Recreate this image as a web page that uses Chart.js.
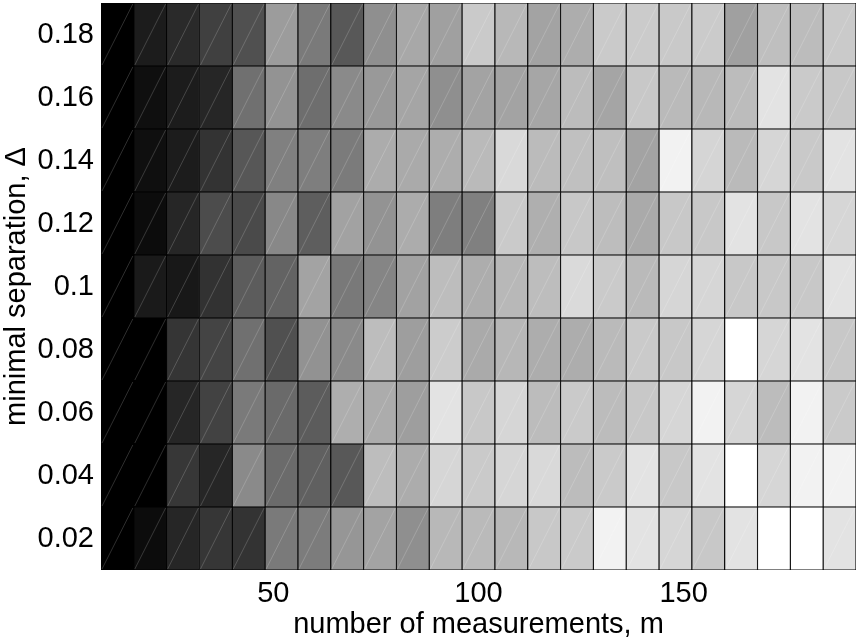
<!DOCTYPE html>
<html>
<head>
<meta charset="utf-8">
<script src="https://cdn.jsdelivr.net/npm/chart.js@4.4.1/dist/chart.umd.min.js"></script>
<style>
  html, body { margin: 0; padding: 0; background: #fff; }
  #wrap { width: 861px; height: 637px; position: relative; }
</style>
</head>
<body>
<div id="wrap"><canvas id="gridChart"></canvas></div>
<script>
// number of measurements (cell centres) and minimal separation (row centres)
const mValues = [12, 20, 28, 36, 44, 52, 60, 68, 76, 84, 92, 100, 108, 116, 124, 132, 140, 148, 156, 164, 172, 180, 188];
const deltaValues = [0.02, 0.04, 0.06, 0.08, 0.1, 0.12, 0.14, 0.16, 0.18];
const xTicks = [50, 100, 150];

// grey level of each cell (0 = black, 255 = white), one array per row
const row002 = [0, 12, 38, 54, 51, 122, 124, 150, 163, 143, 184, 186, 184, 200, 202, 242, 227, 214, 200, 227, 255, 255, 227];
const row004 = [0, 0, 55, 38, 138, 107, 96, 88, 189, 172, 214, 202, 214, 217, 188, 202, 227, 200, 227, 255, 214, 242, 242];
const row006 = [0, 0, 38, 66, 122, 106, 92, 174, 172, 158, 227, 200, 214, 188, 202, 188, 200, 214, 242, 214, 188, 242, 202];
const row008 = [0, 0, 53, 68, 112, 80, 146, 138, 189, 158, 204, 170, 183, 173, 173, 186, 202, 200, 214, 255, 214, 227, 200];
const row010 = [0, 26, 24, 50, 92, 99, 163, 121, 133, 162, 189, 173, 184, 189, 218, 202, 186, 214, 214, 200, 200, 200, 227];
const row012 = [0, 12, 38, 76, 74, 136, 94, 162, 147, 172, 126, 128, 202, 175, 200, 189, 170, 200, 200, 227, 200, 227, 214];
const row014 = [0, 15, 28, 51, 87, 128, 126, 123, 172, 170, 173, 186, 217, 187, 192, 191, 163, 242, 213, 186, 214, 201, 227];
const row016 = [0, 15, 28, 38, 112, 147, 110, 138, 153, 165, 143, 163, 163, 166, 188, 165, 200, 186, 184, 188, 227, 202, 200];
const row018 = [0, 28, 42, 64, 80, 156, 122, 88, 143, 168, 160, 202, 184, 163, 173, 202, 203, 201, 203, 160, 191, 188, 202];

const rows = [row002, row004, row006, row008, row010, row012, row014, row016, row018];

document.addEventListener("DOMContentLoaded", function () {
  const font = "'Liberation Sans', Arial, sans-serif";
  const mStep = mValues[1] - mValues[0];
  const dStep = deltaValues[1] - deltaValues[0];

  function grey(v) {
    return "rgb(" + v + "," + v + "," + v + ")";
  }

  // one floating-bar dataset per row, each bar spans one cell
  const datasets = rows.map(function (row, i) {
    const d = deltaValues[i];
    return {
      label: "Δ = " + d,
      data: mValues.map(function (m) {
        return { x: m, y: [d - dStep / 2, d + dStep / 2] };
      }),
      backgroundColor: row.map(grey),
      borderColor: "#000",
      borderWidth: 0.9,
      borderSkipped: false,
      grouped: false,
      barPercentage: 1,
      categoryPercentage: 1,
    };
  });

  // faint diagonal in each cell, like the triangulated export of the original
  const diagonalPlugin = {
    id: "diagonals",
    afterDatasetsDraw(chart) {
      const ctx = chart.ctx;
      const area = chart.chartArea;
      ctx.save();
      ctx.beginPath();
      ctx.rect(area.left, area.top, area.right - area.left, area.bottom - area.top);
      ctx.clip();
      ctx.strokeStyle = "rgba(255, 255, 255, 0.18)";
      ctx.lineWidth = 1;
      chart.data.datasets.forEach(function (ds, i) {
        chart.getDatasetMeta(i).data.forEach(function (bar) {
          const p = bar.getProps(["x", "y", "base", "width"], true);
          const x0 = p.x - p.width / 2 + 1;
          const x1 = p.x + p.width / 2 - 1;
          ctx.beginPath();
          ctx.moveTo(x0, Math.max(p.y, p.base) - 1);
          ctx.lineTo(x1, Math.min(p.y, p.base) + 1);
          ctx.stroke();
        });
      });
      ctx.restore();
    },
  };

  // keep the plot box fixed: no extra room for overhanging tick labels
  function noLabelPadding(scale) {
    scale.paddingTop = 0;
    scale.paddingBottom = 0;
    scale.paddingLeft = 0;
    scale.paddingRight = 0;
  }

  new Chart(document.getElementById("gridChart"), {
    type: "bar",
    data: { datasets: datasets },
    plugins: [diagonalPlugin],
    options: {
      responsive: true,
      maintainAspectRatio: false,
      animation: false,
      layout: { padding: { top: 3, right: 5, left: 0, bottom: 0 } },
      plugins: {
        legend: { display: false },
        tooltip: { enabled: false },
      },
      scales: {
        x: {
          type: "linear",
          offset: false,
          min: mValues[0] - mStep / 2,
          max: mValues[mValues.length - 1] + mStep / 2,
          afterBuildTicks: function (scale) {
            scale.ticks = xTicks.map(function (v) { return { value: v }; });
          },
          afterFit: function (scale) {
            scale.height = 67;
            noLabelPadding(scale);
          },
          grid: { display: false, drawTicks: false },
          border: { display: false },
          ticks: {
            padding: 7,
            color: "#000",
            font: { family: font, size: 29 },
          },
          title: {
            display: true,
            text: "number of measurements, m",
            color: "#000",
            font: { family: font, size: 29, lineHeight: 1 },
            padding: { top: 0, bottom: -2 },
          },
        },
        y: {
          type: "linear",
          min: deltaValues[0] - dStep / 2,
          max: deltaValues[deltaValues.length - 1] + dStep / 2,
          afterBuildTicks: function (scale) {
            scale.ticks = deltaValues.map(function (v) { return { value: v }; });
          },
          afterFit: function (scale) {
            scale.width = 101;
            noLabelPadding(scale);
          },
          grid: { display: false, drawTicks: false },
          border: { display: false },
          ticks: {
            padding: 7,
            color: "#000",
            font: { family: font, size: 29 },
            callback: function (v) {
              return String(Number(v.toFixed(2)));
            },
          },
          title: {
            display: true,
            text: "minimal separation, Δ",
            color: "#000",
            font: { family: font, size: 29, lineHeight: 1 },
            padding: { top: 2, bottom: 0 },
          },
        },
      },
    },
  });
});
</script>
</body>
</html>
